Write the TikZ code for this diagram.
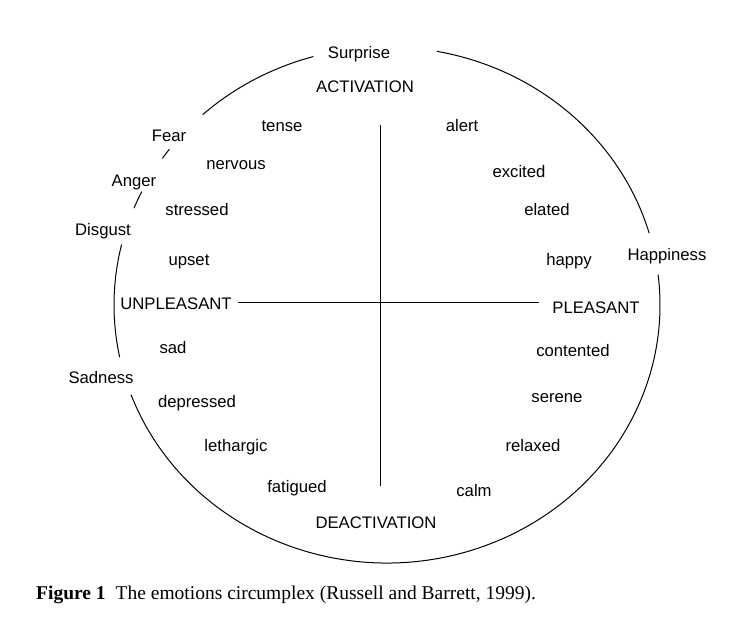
\documentclass[tikz,border=0pt]{standalone}
\usepackage{fontspec}
\setmainfont{Liberation Serif}
\newfontfamily\moodfont{Liberation Sans}
\usetikzlibrary{calc}

\begin{document}
\begin{tikzpicture}[
    x=1pt, y=1pt,
    mood/.style={
        font=\moodfont\fontsize{16.7}{20}\selectfont,
        inner sep=0pt, text height=12pt, text depth=0pt,
    },
    rim/.style={line width=1pt, line cap=round},
    axis/.style={line width=1pt},
]

\useasboundingbox (0,0) rectangle (755,637);

% =============================================
% CIRCUMPLEX RIM – ellipse round (387,332), broken at the emotion labels
% =============================================
\coordinate (c) at (387,332);
% Surprise -> Happiness
\draw[rim] (c) ++(79.4:273 and 258) arc[start angle=79.4, end angle=16.2, x radius=273, y radius=258];
% Surprise -> Fear
\draw[rim] (c) ++(105.7:273 and 258) arc[start angle=105.7, end angle=132.4, x radius=273, y radius=258];
% Fear / Anger
\draw[rim] (c) ++(142.9:273 and 258) arc[start angle=142.9, end angle=145.3, x radius=273, y radius=258];
% Anger / Disgust
\draw[rim] (c) ++(154.0:273 and 258) arc[start angle=154.0, end angle=157.9, x radius=273, y radius=258];
% Disgust -> Sadness
\draw[rim] (c) ++(166.5:273 and 258) arc[start angle=166.5, end angle=191.6, x radius=273, y radius=258];
% Sadness -> Happiness (round the bottom)
\draw[rim] (c) ++(200.4:273 and 258) arc[start angle=200.4, end angle=366.7, x radius=273, y radius=258];

% =============================================
% DISCRETE EMOTIONS – on the rim
% =============================================
\node[mood] (surprise)  at (359,584) {Surprise};
\node[mood] (fear)      at (169,501) {Fear};
\node[mood] (anger)     at (134,456) {Anger};
\node[mood] (disgust)   at (103,407) {Disgust};
\node[mood] (sadness)   at (101,259) {Sadness};
\node[mood] (happiness) at (667,382) {Happiness};

% =============================================
% AXES
% =============================================
\node[mood] (activation)   at (365,550) {ACTIVATION};
\node[mood] (deactivation) at (376,114) {DEACTIVATION};
\node[mood] (unpleasant)   at (176,333) {UNPLEASANT};
\node[mood] (pleasant)     at (596,329) {PLEASANT};

\coordinate (vtop) at (380,512);
\coordinate (vbot) at (380,151);
\coordinate (hwest) at (238,334);
\coordinate (heast) at (539,334);
\draw[axis] (vtop) -- (vbot);
\draw[axis] (hwest) -- (heast);

% =============================================
% AFFECT WORDS – unpleasant half
% =============================================
\node[mood] (tense)     at (282,511) {tense};
\node[mood] (nervous)   at (236,473) {nervous};
\node[mood] (stressed)  at (197,427) {stressed};
\node[mood] (upset)     at (189,377) {upset};
\node[mood] (sad)       at (173,289) {sad};
\node[mood] (depressed) at (197,235) {depressed};
\node[mood] (lethargic) at (236,191) {lethargic};
\node[mood] (fatigued)  at (297,150) {fatigued};

% =============================================
% AFFECT WORDS – pleasant half
% =============================================
\node[mood] (alert)     at (462,511) {alert};
\node[mood] (excited)   at (519,465) {excited};
\node[mood] (elated)    at (547,427) {elated};
\node[mood] (happy)     at (569,377) {happy};
\node[mood] (contented) at (573,286) {contented};
\node[mood] (serene)    at (557,240) {serene};
\node[mood] (relaxed)   at (533,191) {relaxed};
\node[mood] (calm)      at (474,146) {calm};

% Caption
\node[anchor=base west, inner sep=0pt, font=\fontsize{19.5}{23}\selectfont] (caption) at (36,37)
  {\textbf{Figure 1}\hspace{10pt}The emotions circumplex (Russell and Barrett, 1999).};

\end{tikzpicture}
\end{document}
